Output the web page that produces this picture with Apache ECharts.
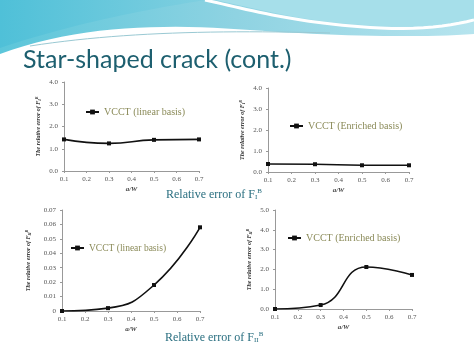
<!DOCTYPE html>
<html><head><meta charset="utf-8">
<script src="https://cdn.jsdelivr.net/npm/echarts@6/dist/echarts.min.js"></script>
<style>html,body{margin:0;padding:0;background:#fff}#c{width:474px;height:355px}</style>
</head><body><div id="c"></div>
<script>
// ---- data ----
const xTicks = [0.1, 0.2, 0.3, 0.4, 0.5, 0.6, 0.7];
const aW = [0.1, 0.3, 0.5, 0.7];
const fI_linear = [1.42, 1.24, 1.40, 1.42];
const fI_enriched = [0.38, 0.37, 0.32, 0.32];
const fII_linear = [0.0, 0.002, 0.018, 0.058];
const fII_enriched = [0.0, 0.2, 2.12, 1.72];
const nameLinear = 'VCCT (linear basis)';
const nameEnriched = 'VCCT (Enriched basis)';

const chart = echarts.init(document.getElementById('c'));
const serif = '"Liberation Serif","DejaVu Serif",serif';
const teal = '#2a6f80';

const panels = [
  {left: 64, top: 82, width: 135, height: 89, ymax: 4, yint: 1, dec: 1, sub: 'I', data: fI_linear, name: nameLinear, lg: {left: 80, top: 102, fs: 10}},
  {left: 268, top: 88, width: 141, height: 84, ymax: 4, yint: 1, dec: 1, sub: 'I', data: fI_enriched, name: nameEnriched, lg: {left: 284, top: 116, fs: 10}},
  {left: 62, top: 210, width: 138, height: 101, ymax: 0.07, yint: 0.01, dec: -1, sub: 'II', data: fII_linear, name: nameLinear, lg: {left: 65, top: 238, fs: 9.5}},
  {left: 275, top: 210, width: 137, height: 99, ymax: 5, yint: 1, dec: 1, sub: 'II', data: fII_enriched, name: nameEnriched, lg: {left: 282, top: 228, fs: 10}}
];

const grid = [], xAxis = [], yAxis = [], series = [], legend = [];
panels.forEach((p, i) => {
  grid.push({left: p.left, top: p.top, width: p.width, height: p.height, containLabel: false});
  xAxis.push({
    type: 'value', gridIndex: i, min: 0.1, max: 0.7, interval: 0.1,
    name: 'a/W', nameLocation: 'middle', nameGap: 15,
    nameTextStyle: {fontFamily: serif, fontStyle: 'italic', fontWeight: 'bold', fontSize: 7, color: '#444'},
    axisLine: {onZero: false, lineStyle: {color: '#999', width: 1}},
    axisTick: {show: true, length: 2, lineStyle: {color: '#999'}},
    axisLabel: {fontFamily: serif, fontSize: 7, color: '#555', margin: 5, formatter: v => v.toFixed(1)},
    splitLine: {show: false}
  });
  yAxis.push({
    type: 'value', gridIndex: i, min: 0, max: p.ymax, interval: p.yint,
    name: '{t|The relative error of F}{s|' + p.sub + '}{u|B}', nameLocation: 'middle', nameGap: p.dec < 0 ? 30 : 22,
    nameRotate: 90,
    nameTextStyle: {rich: {
      t: {fontFamily: serif, fontStyle: 'italic', fontWeight: 'bold', fontSize: 6, color: '#333'},
      s: {fontFamily: serif, fontStyle: 'italic', fontWeight: 'bold', fontSize: 4, color: '#333', padding: [3, 0, 0, 0]},
      u: {fontFamily: serif, fontStyle: 'italic', fontWeight: 'bold', fontSize: 4, color: '#333', padding: [0, 0, 3, 0]}
    }},
    axisLine: {show: true, lineStyle: {color: '#999', width: 1}},
    axisTick: {show: true, length: 2, lineStyle: {color: '#999'}},
    axisLabel: {fontFamily: serif, fontSize: 7, color: '#555', margin: 6,
      formatter: v => p.dec < 0 ? (v === 0 ? '0' : v.toFixed(2)) : v.toFixed(1)},
    splitLine: {show: false}
  });
  series.push({
    type: 'line', name: p.name, xAxisIndex: i, yAxisIndex: i,
    data: aW.map((x, k) => [x, p.data[k]]),
    smooth: true, symbol: 'rect', symbolSize: 4,
    lineStyle: {color: '#111', width: 1.6}, itemStyle: {color: '#111'}
  });
  legend.push({
    left: p.lg.left, top: p.lg.top, data: [p.name], itemWidth: 13, itemHeight: 6, itemGap: 4,
    textStyle: {fontFamily: serif, fontSize: p.lg.fs, color: '#8a8a58'},
    selectedMode: false
  });
});

// decorative header: sample cubic beziers into polygon points
function bez(a, b, c, d, n) {
  const pts = [];
  for (let k = 0; k <= n; k++) {
    const t = k / n, u = 1 - t;
    pts.push([u*u*u*a[0] + 3*u*u*t*b[0] + 3*u*t*t*c[0] + t*t*t*d[0],
              u*u*u*a[1] + 3*u*u*t*b[1] + 3*u*t*t*c[1] + t*t*t*d[1]]);
  }
  return pts;
}
const base = [[0,0],[474,0]].concat(bez([474,34],[420,38],[330,36],[250,30],20), bez([250,30],[170,24],[80,24],[0,54],20));
const rightBand = [[215,0],[474,0]].concat(bez([474,22],[420,30],[340,26],[290,16],20), bez([290,16],[250,8],[225,2],[215,0],10));
const leftBand = [[0,0],[205,0]].concat(bez([205,0],[170,6],[90,18],[0,48],24));
const swoosh = bez([205,0],[250,10],[300,24],[380,28],24).concat(bez([380,28],[420,30],[450,26],[474,20],10));
const thin = bez([30,46],[120,32],[220,30],[330,33],24);

const header = [
  {type: 'polygon', shape: {points: base}, z: 1,
   style: {fill: new echarts.graphic.LinearGradient(0, 0, 1, 0, [{offset: 0, color: '#5cc6da'}, {offset: 0.5, color: '#8fd3e2'}, {offset: 1, color: '#b6e4ee'}])}},
  {type: 'polygon', shape: {points: rightBand}, z: 2, style: {fill: '#a6dfea'}},
  {type: 'polygon', shape: {points: leftBand}, z: 2,
   style: {fill: new echarts.graphic.LinearGradient(0, 0, 1, 0, [{offset: 0, color: '#4fc0d8'}, {offset: 1, color: '#7fcfe0'}])}},
  {type: 'polyline', shape: {points: swoosh}, z: 3, style: {stroke: '#ffffff', lineWidth: 3, fill: null}},
  {type: 'polyline', shape: {points: thin}, z: 3, style: {stroke: '#9ac9d3', lineWidth: 1, fill: null}},
  {type: 'text', left: 23, top: 47, z: 5,
   style: {text: 'Star-shaped crack (cont.)', fontFamily: 'Lato,"Open Sans",sans-serif', fontSize: 25, fill: '#1d5f6f'}},
  {type: 'text', left: 166, top: 188, z: 5,
   style: {text: '{a|Relative error of F}{b|I}{c|B}', rich: {
     a: {fontFamily: serif, fontSize: 12, fill: teal},
     b: {fontFamily: serif, fontSize: 7, fill: teal, padding: [5, 0, 0, 0]},
     c: {fontFamily: serif, fontSize: 7, fill: teal, padding: [0, 0, 6, 0]}}}},
  {type: 'text', left: 165, top: 331, z: 5,
   style: {text: '{a|Relative error of F}{b|II}{c|B}', rich: {
     a: {fontFamily: serif, fontSize: 12, fill: teal},
     b: {fontFamily: serif, fontSize: 7, fill: teal, padding: [5, 0, 0, 0]},
     c: {fontFamily: serif, fontSize: 7, fill: teal, padding: [0, 0, 6, 0]}}}}
];

chart.setOption({
  animation: false,
  backgroundColor: '#ffffff',
  grid, xAxis, yAxis, series, legend,
  graphic: header
});
</script></body></html>
